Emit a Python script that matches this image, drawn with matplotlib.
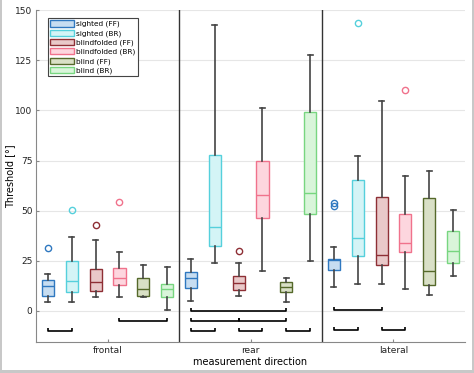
import numpy as np
import matplotlib.pyplot as plt
from matplotlib.patches import Patch, Rectangle

directions = ['frontal', 'rear', 'lateral']
groups = ['sighted (FF)', 'sighted (BR)', 'blindfolded (FF)', 'blindfolded (BR)', 'blind (FF)', 'blind (BR)']

edge_cols = ['#2f78c0', '#55d0dc', '#8e2f35', '#f0728c', '#55692a', '#78d680']
fill_cols = ['#c7ddf1', '#d4f4f6', '#e9c9c9', '#fdd6de', '#d9e0c6', '#d9f5da']

# rows: frontal, rear, lateral ; cols: the six groups
whislo = [[4.6, 4.6, 7.0, 7.0, 6.8, 0.5],
          [4.8, 24.1, 7.3, 19.9, 4.5, 25.0],
          [11.8, 13.3, 13.6, 11.0, 8.1, 17.4]]
q1 = [[7.5, 9.6, 10.0, 13.0, 7.3, 7.0],
      [11.6, 32.5, 10.6, 46.5, 9.3, 48.5],
      [20.3, 27.4, 22.8, 29.5, 12.8, 23.8]]
med = [[12.6, 15.0, 14.3, 16.3, 10.8, 11.1],
       [16.6, 42.0, 14.0, 57.8, 12.0, 58.9],
       [25.3, 36.2, 27.9, 33.9, 19.9, 29.9]]
q3 = [[15.4, 24.9, 20.8, 21.3, 16.6, 13.5],
      [19.4, 77.9, 17.3, 74.7, 14.6, 99.0],
      [25.9, 65.1, 57.0, 48.5, 56.5, 39.9]]
whishi = [[18.4, 37.0, 35.2, 29.5, 22.9, 21.9],
          [25.9, 142.5, 24.1, 101.0, 16.4, 127.6],
          [31.9, 77.2, 104.5, 67.4, 69.9, 50.2]]
outliers = [[[31.5], [50.3], [42.8], [54.2], [], []],
            [[], [], [30.0], [], [], []],
            [[53.7, 52.3], [143.8], [], [110.0], [], []]]

# significance brackets: (direction, from group, to group, level)
brackets = [(0, 0, 1, -10), (0, 3, 5, -5),
            (1, 0, 4, 0), (1, 0, 2, -5), (1, 2, 4, -5),
            (1, 0, 1, -10), (1, 2, 3, -10), (1, 4, 5, -10),
            (2, 0, 2, 0.5), (2, 0, 1, -9.5), (2, 2, 3, -9.5)]

offsets = (np.arange(6) - 2.5) / 6.0

fig = plt.figure(figsize=(4.74, 3.73), dpi=100)
ax = fig.add_axes([0.076, 0.083, 0.905, 0.890])

for d in range(3):
    for g in range(6):
        st = dict(med=med[d][g], q1=q1[d][g], q3=q3[d][g],
                  whislo=whislo[d][g], whishi=whishi[d][g], fliers=outliers[d][g])
        ax.bxp([st], positions=[d + 1 + offsets[g]], widths=0.085, patch_artist=True,
               showfliers=True, manage_ticks=False,
               boxprops=dict(facecolor=fill_cols[g], edgecolor=edge_cols[g], linewidth=1.0),
               medianprops=dict(color=edge_cols[g], linewidth=1.0),
               whiskerprops=dict(color='#444444', linewidth=1.2),
               capprops=dict(color='#444444', linewidth=1.2),
               capwidths=0.035,
               flierprops=dict(marker='o', markerfacecolor='none', markeredgecolor=edge_cols[g],
                               markersize=4.5, markeredgewidth=1.0))

for d, a, b, lev in brackets:
    xa = d + 1 + offsets[a]
    xb = d + 1 + offsets[b]
    ax.plot([xa, xa, xb, xb], [lev + 1.6, lev, lev, lev + 1.6], color='black', lw=1.2,
            solid_capstyle='butt')

for xs in [1.5, 2.5]:
    ax.axvline(xs, color='#333333', lw=1.0)

ax.set_xlim(0.5, 3.5)
ax.set_ylim(-15.5, 150)
ax.set_yticks(np.arange(0, 151, 25))
ax.set_xticks([1, 2, 3])
ax.set_xticklabels(directions)
ax.yaxis.grid(True, color='#e6e6e6', lw=0.8)
ax.set_axisbelow(True)
ax.tick_params(direction='in', length=2.5, color='#888888', labelsize=6.5, labelcolor='#222222',
               pad=2.5)
for s in ['top', 'right']:
    ax.spines[s].set_visible(False)
for s in ['left', 'bottom']:
    ax.spines[s].set_color('#888888')
    ax.spines[s].set_linewidth(0.8)
ax.set_ylabel('Threshold [°]', fontsize=7, labelpad=0)
ax.set_xlabel('measurement direction', fontsize=7, labelpad=2)

handles = [Patch(facecolor=fill_cols[g], edgecolor=edge_cols[g], linewidth=1.0) for g in range(6)]
leg = ax.legend(handles, groups, loc='upper left', bbox_to_anchor=(0.024, 0.98), fontsize=5.3,
                handlelength=3.3, handleheight=0.9, handletextpad=0.3, labelspacing=0.3,
                borderpad=0.3, borderaxespad=0.2, fancybox=False, framealpha=1)
leg.get_frame().set_edgecolor('#444444')
leg.get_frame().set_linewidth(0.8)

# light gray strips on the left, right and bottom edges of the picture
for x0, y0, w, h in [(0, 0, 0.005, 1), (0.995, 0, 0.005, 1), (0, 0, 1, 0.009)]:
    fig.patches.append(Rectangle((x0, y0), w, h, transform=fig.transFigure,
                                 facecolor='#c8c8c8', edgecolor='none'))

fig.savefig('out.png', dpi=100)
